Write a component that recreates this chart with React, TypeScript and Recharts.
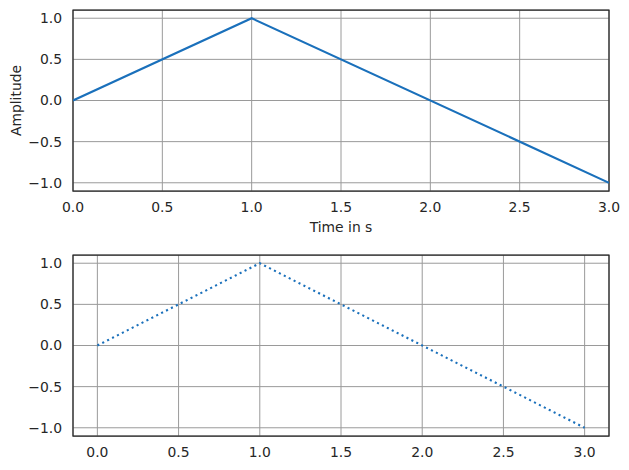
import React from 'react';
import { LineChart, Line, XAxis, YAxis, CartesianGrid, ReferenceArea } from 'recharts';

const timeValues = [0, 1, 3];
const amplitudeValues = [0, 1, -1];
const xTicks = [0, 0.5, 1, 1.5, 2, 2.5, 3];
const yTicks = [-1, -0.5, 0, 0.5, 1];

const data = timeValues.map((t, i) => ({ t, a: amplitudeValues[i] }));

const FONT = 'DejaVu Sans';
const TEXT = '#262626';
const LINE = '#1a70bb';
const GRID = '#9a9a9a';
const FS = 13.9;

const fmt = (v: number) => (v < 0 ? '\u2212' + Math.abs(v).toFixed(1) : v.toFixed(1));
const tickStyle = { fill: TEXT, fontSize: FS, fontFamily: FONT };

function Panel({ xDomain, height, margin, xAxisHeight, dotted, xLabel, yLabel }: any) {
  return (
    <LineChart width={629} height={height} data={data} margin={margin}>
      <CartesianGrid stroke={GRID} strokeWidth={1} />
      <XAxis
        dataKey="t"
        type="number"
        domain={xDomain}
        ticks={xTicks}
        allowDataOverflow
        tickFormatter={fmt}
        tick={tickStyle}
        tickLine={false}
        axisLine={false}
        tickSize={0}
        tickMargin={11}
        height={xAxisHeight}
        interval={0}
        label={
          xLabel
            ? {
                content: (p: any) => {
                  const vb = p.viewBox;
                  return (
                    <text x={vb.x + vb.width / 2} y={vb.y + 41} textAnchor="middle" fill={TEXT} fontSize={FS} fontFamily={FONT}>
                      {xLabel}
                    </text>
                  );
                },
              }
            : undefined
        }
      />
      <YAxis
        type="number"
        domain={[-1.1, 1.1]}
        ticks={yTicks}
        allowDataOverflow
        tickFormatter={fmt}
        tick={tickStyle}
        tickLine={false}
        axisLine={false}
        tickSize={0}
        tickMargin={11}
        width={73}
        interval={0}
        label={
          yLabel
            ? {
                content: (p: any) => {
                  const vb = p.viewBox;
                  const cx = 20.5;
                  const cy = vb.y + vb.height / 2;
                  return (
                    <text x={cx} y={cy} transform={`rotate(-90, ${cx}, ${cy})`} textAnchor="middle" fill={TEXT} fontSize={FS} fontFamily={FONT}>
                      {yLabel}
                    </text>
                  );
                },
              }
            : undefined
        }
      />
      <Line
        dataKey="a"
        type="linear"
        stroke={LINE}
        strokeWidth={2.08}
        strokeDasharray={dotted ? '2.1 3.4' : undefined}
        dot={false}
        activeDot={false}
        isAnimationActive={false}
      />
      <ReferenceArea
        x1={xDomain[0]}
        x2={xDomain[1]}
        y1={-1.1}
        y2={1.1}
        fill="none"
        stroke={TEXT}
        strokeWidth={1.25}
        ifOverflow="visible"
      />
    </LineChart>
  );
}

export default function App() {
  return (
    <div style={{ position: 'absolute', left: 0, top: 0, width: 629, height: 470, background: '#fff' }}>
      <div style={{ position: 'absolute', left: 0, top: 0 }}>
        <Panel
          xDomain={[0, 3]}
          height={240}
          margin={{ top: 10, right: 20, left: 0, bottom: 0 }}
          xAxisHeight={49}
          dotted={false}
          xLabel="Time in s"
          yLabel="Amplitude"
        />
      </div>
      <div style={{ position: 'absolute', left: 0, top: 240 }}>
        <Panel
          xDomain={[-0.15, 3.15]}
          height={230}
          margin={{ top: 15, right: 20, left: 0, bottom: 0 }}
          xAxisHeight={34}
          dotted={true}
        />
      </div>
    </div>
  );
}
